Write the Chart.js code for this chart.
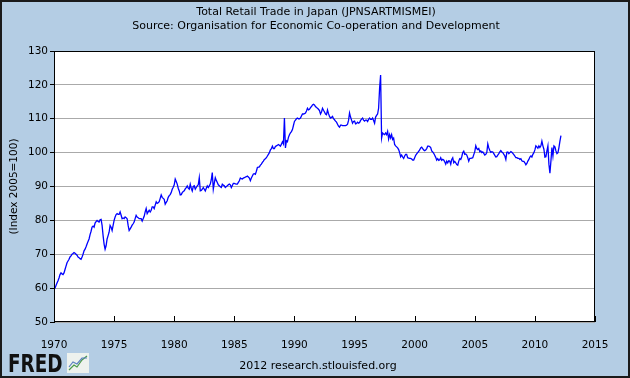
<!DOCTYPE html>
<html>
<head>
<meta charset="utf-8">
<script src="https://cdn.jsdelivr.net/npm/chart.js@4.4.0/dist/chart.umd.min.js"></script>
<style>
  html, body { margin: 0; padding: 0; background: #b4cde4; }
  canvas { display: block; }
</style>
</head>
<body>
<canvas id="chart" width="630" height="378"></canvas>
<script>
// Total Retail Trade in Japan, monthly index (2005=100)
const startYear = 1970;
const v1970s = [
  59.8, 60, 60.8, 61.5, 62.2, 63, 64, 64.5, 64.2, 64, 64.5, 65.5,
  66.5, 67.5, 68, 68.5, 69.2, 69.5, 70, 70.2, 70.5, 70.3, 70, 69.7,
  69.2, 69, 68.7, 68.5, 69.2, 70, 71, 71.5, 72.2, 73, 73.8, 74.5,
  75.8, 76.8, 78, 78.3, 78, 79.2, 79.6, 80, 79.7, 79.5, 80.2, 80.3,
  78.5, 75.5, 73, 71.5, 72.5, 74.5, 75.5, 76.5, 78.5, 78, 77, 78.5,
  80, 81, 81.7, 82, 81.8, 81.8, 82.5, 81.5, 80.5, 80.7, 80.5, 81,
  80.8, 80.5, 78.5, 77, 77.5, 78, 78.6, 79, 79.5, 80.5, 81.5, 81,
  80.8, 80.5, 80.5, 80.5, 79.8, 80.5, 81.2, 82.5, 83.5, 82, 82.5, 83,
  82.5, 83, 84, 84, 83.5, 84.5, 85.5, 85, 85.2, 85.5, 86.5, 87.5,
  86.8, 86.5, 86.2, 84.8, 85.3, 85.8, 86.8, 87.3, 87.6, 88.2, 89.2, 89.8
];
const v1980s = [
  90.5, 92.2, 91.5, 90.7, 89.5, 88.7, 87.5, 87.6, 88.2, 88.5, 88.7, 89.3,
  89.7, 90.2, 89.5, 89.2, 90.7, 89.5, 88.7, 90, 90.2, 89.2, 89.7, 90.2,
  90.5, 92.6, 88.7, 88.8, 89.2, 89.7, 89.2, 88.7, 89.5, 90.2, 89.7, 90.2,
  90.7, 92, 94.1, 89.2, 91, 92.6, 91.8, 91.2, 90.5, 90.2, 89.9, 89.7,
  90.7, 90.4, 90.2, 89.7, 90, 90.2, 90.5, 90.7, 90.5, 89.7, 90.3, 90.9,
  90.9, 90.8, 90.7, 90.7, 91.2, 91.7, 92.5, 92.3, 92.2, 92.5, 92.6, 92.8,
  92.9, 93.1, 92.8, 92.5, 91.7, 92.5, 93.1, 93.7, 93.8, 93.6, 94.5, 95.6,
  95.7, 95.8, 96.3, 96.6, 97.1, 97.5, 98, 98.2, 98.5, 99, 99.5, 100,
  100.8, 101.2, 101.9, 101.2, 101.2, 101.8, 102, 102.2, 102.4, 102.2, 101.9, 102.5,
  103.2, 102.6, 110.2, 101.4, 103.5, 103.2, 104.5, 105.3, 105.8, 106.2, 106.8, 108
];
const v1990s = [
  109.2, 109.6, 110, 110.2, 110, 110, 110.2, 110.8, 111.4, 111.4, 111.5, 111.7,
  112.3, 113.1, 112.6, 112.8, 113.3, 113.6, 114.1, 114.3, 114.1, 113.6, 113.3, 113.1,
  112.8, 112.4, 111.4, 112, 113.1, 112.5, 112, 111.4, 111.2, 112.6, 111.5, 110.7,
  110.2, 110.4, 110.7, 110, 109.7, 109.3, 109, 108.4, 107.8, 107.5, 108.1, 108.1,
  108, 108, 108, 108, 108.1, 108.4, 109.5, 111.7, 110.5, 109.6, 108.7, 109.2,
  109.3, 108.5, 108.6, 109, 108.7, 108.9, 109.5, 109.9, 110.2, 109.6, 109.3, 109.6,
  109.6, 109.2, 109.8, 110.2, 109.8, 109.8, 110.2, 109.5, 108.7, 110.5, 111, 111.4,
  113.1, 119, 122.9, 104.3, 105.8, 105.5, 105.3, 105.8, 105.3, 106.3, 104, 105.3,
  104.3, 105.3, 103.9, 104.3, 102.4, 102, 101.7, 101.4, 100.9, 100, 98.8, 99.3,
  98.7, 98.3, 99, 99.5, 99.5, 98.5, 98.4, 98.3, 98.3, 98.1, 97.8, 97.8
];
const v2000s = [
  98.5, 99.2, 99.6, 100, 100.4, 100.8, 101.4, 101.6, 101.2, 100.8, 100.6, 100.8,
  101.2, 101.9, 101.9, 101.8, 101.5, 100.5, 100.2, 99.8, 99.2, 98.6, 97.8, 98.2,
  97.7, 97.9, 98.5, 97.7, 98, 97.8, 97.3, 96.6, 97.5, 97, 97.6, 97.5,
  96.6, 98, 98.5, 97, 97.4, 97, 96.5, 96.3, 97.5, 98.2, 98, 98.8,
  100, 100.4, 99.5, 99.6, 99.3, 98.5, 97.5, 98.3, 98.3, 98.4, 98.5, 99.4,
  100.3, 102, 101.2, 100.9, 101.2, 100.3, 100.5, 100, 100.2, 99.8, 99.3, 99.5,
  100, 102.6, 101.4, 100.6, 100.1, 100.3, 100.2, 99.7, 99.2, 98.7, 98.8, 99.3,
  99.7, 100.2, 100.6, 100.2, 100, 99.5, 99, 98, 100.1, 100.2, 99.7, 100,
  100.3, 100.1, 99.8, 99.4, 99, 98.5, 98.5, 98.3, 98.3, 98, 98.2, 97.6,
  97.4, 97.4, 97, 96.4, 96.8, 97.5, 98, 98.7, 99, 98.7, 99.5, 100
];
const v2010s = [
  100.8, 102, 101.7, 101.3, 102, 101.5, 102, 103.4, 102, 101, 98.7, 98.8,
  100.5, 102, 96.6, 93.9, 97.5, 101.5, 99, 102, 101.7, 100.5, 99.7, 100,
  101.5, 103.4, 105
];
const yearTicks = [1970, 1975, 1980, 1985, 1990, 1995, 2000, 2005, 2010, 2015];
const indexTicks = [50, 60, 70, 80, 90, 100, 110, 120, 130];

const titleText = 'Total Retail Trade in Japan (JPNSARTMISMEI)';
const sourceText = 'Source: Organisation for Economic Co-operation and Development';
const footerText = '2012 research.stlouisfed.org';

const monthly = [].concat(v1970s, v1980s, v1990s, v2000s, v2010s);
const points = monthly.map((v, i) => ({ x: startYear + i / 12, y: v }));

const FONT = 'DejaVu Sans';
const BG = '#b4cde4';

const fredFrame = {
  id: 'fredFrame',
  beforeDraw(chart) {
    const { ctx, chartArea: a, width, height } = chart;
    ctx.save();
    ctx.fillStyle = BG;
    ctx.fillRect(0, 0, width, height);
    ctx.fillStyle = '#fff';
    ctx.fillRect(a.left, a.top, a.right - a.left, a.bottom - a.top);
    ctx.restore();
  },
  afterDraw(chart) {
    const { ctx, chartArea: a, width, height } = chart;
    const xs = chart.scales.x;
    ctx.save();
    // plot frame
    ctx.strokeStyle = '#000';
    ctx.lineWidth = 1;
    ctx.strokeRect(a.left + 0.5, a.top + 0.5, a.right - a.left - 1, a.bottom - a.top - 1);
    // inner x ticks
    ctx.beginPath();
    yearTicks.forEach(t => {
      const px = Math.round(xs.getPixelForValue(t)) + 0.5;
      ctx.moveTo(px, a.bottom);
      ctx.lineTo(px, a.bottom - 6);
    });
    ctx.stroke();
    // titles
    ctx.fillStyle = '#000';
    ctx.textAlign = 'center';
    ctx.textBaseline = 'middle';
    ctx.font = '11px "' + FONT + '"';
    ctx.fillText(titleText, 316, 12);
    ctx.fillText(sourceText, 316, 26);
    ctx.fillText(footerText, 318, 366);
    // FRED logo
    ctx.save();
    ctx.translate(8, 372);
    ctx.scale(0.8, 1.05);
    ctx.font = 'bold 23px "' + FONT + '"';
    ctx.textAlign = 'left';
    ctx.textBaseline = 'alphabetic';
    ctx.fillStyle = '#111';
    ctx.fillText('FRED', 0, 0);
    ctx.restore();
    ctx.fillStyle = '#eef2ee';
    ctx.fillRect(67, 353, 22, 20);
    ctx.lineWidth = 1.2;
    ctx.strokeStyle = '#4a9a4a';
    ctx.beginPath();
    ctx.moveTo(69, 370); ctx.lineTo(74, 365); ctx.lineTo(77, 367); ctx.lineTo(82, 360); ctx.lineTo(87, 356);
    ctx.stroke();
    ctx.strokeStyle = '#5b7fc0';
    ctx.beginPath();
    ctx.moveTo(69, 367); ctx.lineTo(73, 362); ctx.lineTo(77, 364); ctx.lineTo(82, 358); ctx.lineTo(87, 358);
    ctx.stroke();
    // outer border
    ctx.strokeStyle = '#1a1a1a';
    ctx.lineWidth = 2;
    ctx.strokeRect(1, 1, width - 2, height - 2);
    ctx.restore();
  }
};

new Chart(document.getElementById('chart'), {
  type: 'line',
  data: {
    datasets: [{
      data: points,
      borderColor: '#0000ff',
      borderWidth: 1.3,
      pointRadius: 0,
      tension: 0,
      fill: false
    }]
  },
  options: {
    responsive: false,
    animation: false,
    layout: { padding: { left: 0, top: 51, right: 35, bottom: 0 } },
    plugins: { legend: { display: false }, tooltip: { enabled: false } },
    scales: {
      x: {
        type: 'linear', min: 1970, max: 2015,
        afterBuildTicks: s => { s.ticks = yearTicks.map(v => ({ value: v })); },
        afterFit: s => { s.height = 56; },
        grid: { display: false },
        border: { display: false },
        ticks: { color: '#000', font: { family: FONT, size: 10.5 }, padding: 9, maxRotation: 0, autoSkip: false, callback: v => String(v) }
      },
      y: {
        min: 50, max: 130,
        afterBuildTicks: s => { s.ticks = indexTicks.map(v => ({ value: v })); },
        afterFit: s => { s.width = 54; },
        grid: { color: '#aaaaaa', tickColor: '#000', tickLength: 4, lineWidth: 1 },
        border: { display: true, color: '#000' },
        ticks: { color: '#000', font: { family: FONT, size: 10.5 }, padding: 2 },
        title: { display: true, text: '(Index 2005=100)', color: '#000', font: { family: FONT, size: 10.5 }, padding: { top: 8, bottom: 0 } }
      }
    }
  },
  plugins: [fredFrame]
});
</script>
</body>
</html>
